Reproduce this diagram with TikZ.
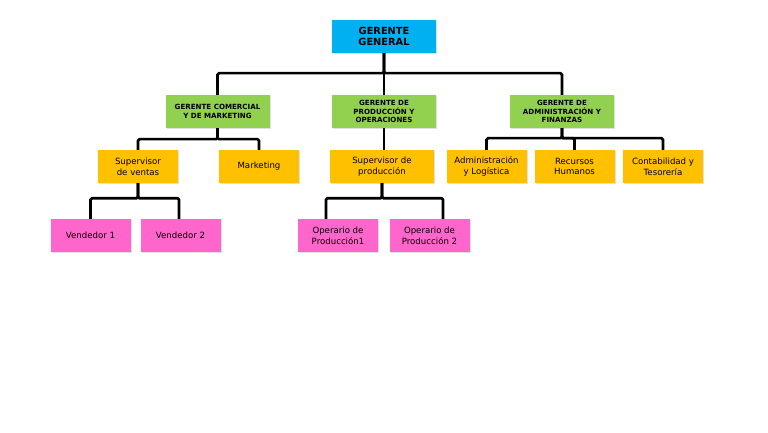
\documentclass[tikz,border=0pt]{standalone}
\usepackage{fontspec}
\setmainfont{DejaVu Sans}
\usetikzlibrary{positioning,shadows}
\definecolor{gerblue}{RGB}{0,176,240}
\definecolor{mgrgreen}{RGB}{146,208,80}
\definecolor{supyellow}{RGB}{255,192,0}
\definecolor{oppink}{RGB}{255,102,204}
\tikzset{
  organi/.style={x=1pt, y=-1pt},
  boxbase/.style={
    rectangle, align=center, inner sep=1pt,
    drop shadow={opacity=0.25, shadow xshift=1pt, shadow yshift=-1.2pt}
  },
  topbox/.style={boxbase, fill=gerblue, minimum width=104pt, minimum height=33pt,
    font=\fontsize{9.8}{11.5}\selectfont\bfseries},
  mgrbox/.style={boxbase, fill=mgrgreen, minimum width=104pt, minimum height=33pt,
    font=\fontsize{7.1}{8.8}\selectfont\bfseries},
  supbox/.style={boxbase, fill=supyellow, minimum width=80pt, minimum height=33pt,
    font=\fontsize{8.6}{10.8}\selectfont},
  opbox/.style={boxbase, fill=oppink, minimum width=80pt, minimum height=33pt,
    font=\fontsize{8.6}{10.8}\selectfont},
  conn/.style={line width=2.6pt, rounded corners=1.5pt}
}
\begin{document}
\begin{tikzpicture}[organi]
\useasboundingbox[fill=white] (0,0) rectangle (768,433);

% 1 : Gerente general
\node[topbox] (gg) at (384,36.5) {GERENTE\\GENERAL};

% 2 : Gerentes de area
\node[mgrbox] (com) at (217.5,111.5) {GERENTE COMERCIAL\\Y DE MARKETING};
\node[mgrbox] (prod) at (384,111.5) {GERENTE DE\\PRODUCCIÓN Y\\OPERACIONES};
\node[mgrbox] (adm) at (562,111.5) {GERENTE DE\\ADMINISTRACIÓN Y\\FINANZAS};
\draw[conn] (gg.south) -- ++(0,20) -| (com.north);
\draw[conn] (gg.south) -- ++(0,20) -| (adm.north);
\draw[conn] (gg.south) -- (prod.north);

% 3 : Area comercial
\node[supbox] (supv) at (138,166.5) {Supervisor\\de ventas};
\node[supbox] (mkt) at (259,166.5) {Marketing};
\draw[conn] (com.south) -- ++(0,11) -| (supv.north);
\draw[conn] (com.south) -- ++(0,11) -| (mkt.north);

% 4 : Area de produccion
\node[supbox, minimum width=104pt] (supp) at (382,166.5) {Supervisor de\\producción};
\draw[conn] (prod.south) -- (prod.south |- supp.north);

% 5 : Area de administracion
\node[supbox] (log) at (486.5,166.5) {Administración\\y Logística};
\node[supbox] (rrhh) at (574.5,166.5) {Recursos\\Humanos};
\node[supbox] (cont) at (663,166.5) {Contabilidad y\\Tesorería};
\draw[conn] (adm.south) -- ++(0,10) -| (log.north);
\draw[conn] (adm.south) -- ++(0,10) -| (cont.north);
\draw[conn] (adm.south) ++(0,10) -| (rrhh.north);

% 6 : Vendedores
\node[opbox] (ven1) at (90.5,235.5) {Vendedor 1};
\node[opbox] (ven2) at (180.5,235.5) {Vendedor 2};
\draw[conn] (supv.south) -- ++(0,15) -| (ven1.north);
\draw[conn] (supv.south) -- ++(0,15) -| ([xshift=-1.5pt]ven2.north);

% 7 : Operarios
\node[opbox] (op1) at (338,235.5) {Operario de\\Producción1};
\node[opbox] (op2) at (429.5,235.5) {Operario de\\Producción 2};
\draw[conn] (supp.south) -- ++(0,15) -| ([xshift=-12pt]op1.north);
\draw[conn] (supp.south) -- ++(0,15) -| ([xshift=13.5pt]op2.north);

\end{tikzpicture}
\end{document}
